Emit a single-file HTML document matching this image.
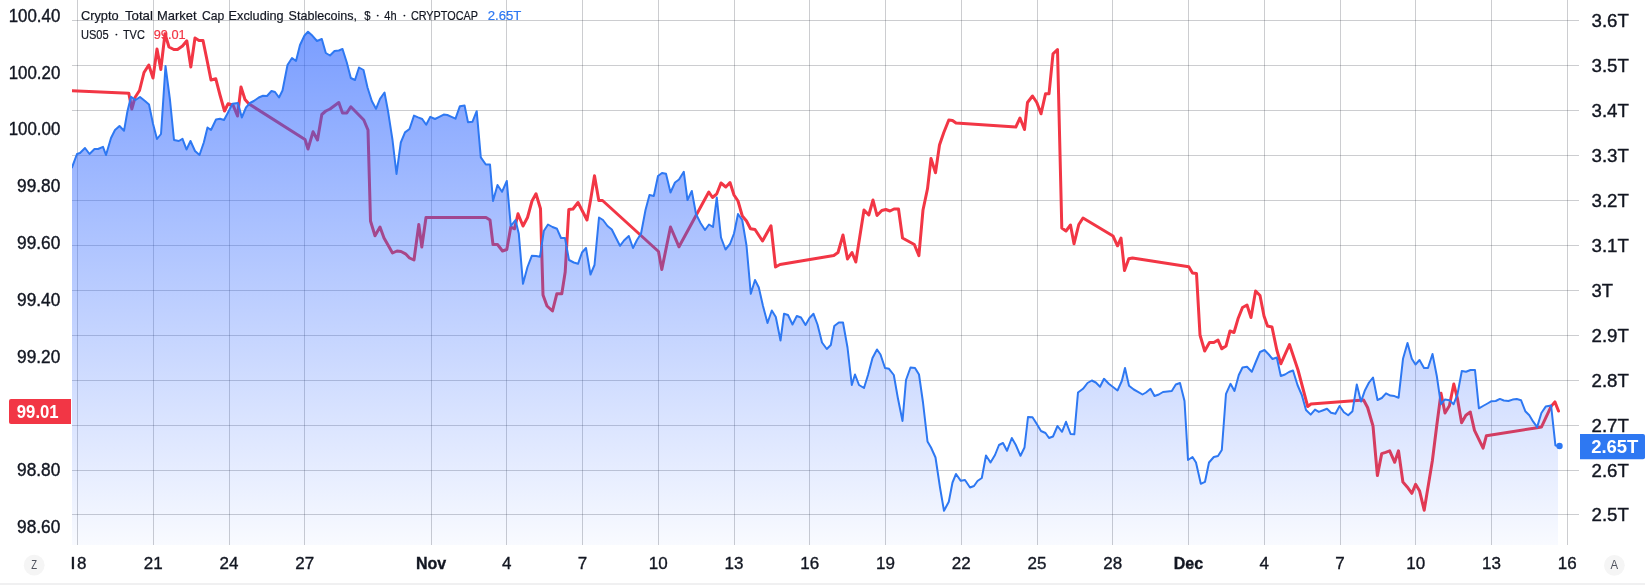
<!DOCTYPE html>
<html><head><meta charset="utf-8"><title>chart</title>
<style>
html,body{margin:0;padding:0;background:#fff;}
body{width:1645px;height:585px;overflow:hidden;font-family:"Liberation Sans",sans-serif;}
svg{display:block;will-change:transform;}
text{font-family:"Liberation Sans",sans-serif;}
</style></head><body>
<svg width="1645" height="585" viewBox="0 0 1645 585">
<defs>
<linearGradient id="ag" gradientUnits="userSpaceOnUse" x1="0" y1="0" x2="0" y2="545">
<stop offset="0" stop-color="#2962ff" stop-opacity="0.655"/>
<stop offset="1" stop-color="#2962ff" stop-opacity="0.03"/>
</linearGradient>
<clipPath id="cp"><rect x="72" y="0" width="1507" height="545"/></clipPath>
<clipPath id="cp2"><rect x="72" y="545" width="1507" height="40"/></clipPath>
</defs>
<rect x="0" y="0" width="1645" height="585" fill="#ffffff"/>
<rect x="0" y="583" width="1645" height="2" fill="#f0f0f1"/>

<g stroke="rgba(42,46,57,0.24)" stroke-width="1" shape-rendering="crispEdges">
<line x1="77.5" y1="0" x2="77.5" y2="545"/>
<line x1="153.5" y1="0" x2="153.5" y2="545"/>
<line x1="229.5" y1="0" x2="229.5" y2="545"/>
<line x1="304.5" y1="0" x2="304.5" y2="545"/>
<line x1="431.5" y1="0" x2="431.5" y2="545"/>
<line x1="506.5" y1="0" x2="506.5" y2="545"/>
<line x1="582.5" y1="0" x2="582.5" y2="545"/>
<line x1="658.5" y1="0" x2="658.5" y2="545"/>
<line x1="734.5" y1="0" x2="734.5" y2="545"/>
<line x1="809.5" y1="0" x2="809.5" y2="545"/>
<line x1="885.5" y1="0" x2="885.5" y2="545"/>
<line x1="961.5" y1="0" x2="961.5" y2="545"/>
<line x1="1037.5" y1="0" x2="1037.5" y2="545"/>
<line x1="1112.5" y1="0" x2="1112.5" y2="545"/>
<line x1="1188.5" y1="0" x2="1188.5" y2="545"/>
<line x1="1264.5" y1="0" x2="1264.5" y2="545"/>
<line x1="1340.5" y1="0" x2="1340.5" y2="545"/>
<line x1="1415.5" y1="0" x2="1415.5" y2="545"/>
<line x1="1491.5" y1="0" x2="1491.5" y2="545"/>
<line x1="1567.5" y1="0" x2="1567.5" y2="545"/>
<line x1="72" y1="20.5" x2="1579" y2="20.5"/>
<line x1="72" y1="65.5" x2="1579" y2="65.5"/>
<line x1="72" y1="110.5" x2="1579" y2="110.5"/>
<line x1="72" y1="155.5" x2="1579" y2="155.5"/>
<line x1="72" y1="200.5" x2="1579" y2="200.5"/>
<line x1="72" y1="245.5" x2="1579" y2="245.5"/>
<line x1="72" y1="290.5" x2="1579" y2="290.5"/>
<line x1="72" y1="335.5" x2="1579" y2="335.5"/>
<line x1="72" y1="380.5" x2="1579" y2="380.5"/>
<line x1="72" y1="425.5" x2="1579" y2="425.5"/>
<line x1="72" y1="470.5" x2="1579" y2="470.5"/>
<line x1="72" y1="514.5" x2="1579" y2="514.5"/>
</g>
<g clip-path="url(#cp)">
<path d="M72,90.8 L128.8,93.2 L131.8,109 L135,97.5 L139.5,90.5 L144,72.5 L148.8,65 L153,78 L157,49 L160.8,69.5 L165,33.8 L169,47 L173.8,49.5 L177.5,49.5 L182.5,46 L186.8,40.8 L190.8,67 L195,38 L199,40.5 L203,40.5 L207.5,62.5 L211,80 L215.8,78.8 L220,95 L224.5,111 L228,103.8 L233,105 L237.5,116 L241,87 L245,99.5 L248.8,103.8 L305,139.5 L308,149 L313,131.8 L317.5,140 L321.8,114.5 L325.8,111 L330,109 L338.8,102.5 L342.5,113 L346.8,113 L350.8,106.8 L363.8,120 L368,130 L370.5,221 L375,235.8 L380,227 L384,238 L388,245 L392.5,253 L397,251 L401,251.5 L405.5,253.8 L409.5,258 L414,260 L418.8,224.5 L421.8,247 L426,217.5 L486,217.5 L490,220 L493,244.5 L497.5,244.5 L502.5,251 L506.8,249.5 L510.8,227 L514.5,228.8 L518,213.8 L523,226 L527.5,217.5 L532,201 L536,193.8 L540.5,208.8 L543,295 L547,306 L552.5,311 L556.8,293.8 L561.8,293.8 L565.2,272 L568.8,209.5 L573,209 L578,202.5 L587,220 L590.8,198.8 L594.5,175.8 L598.8,200.5 L602.5,200.5 L658.5,251.5 L661.8,269.5 L670.5,227 L679,246.8 L708.8,192 L712.5,197.5 L716.8,193.8 L721,183 L725.8,187 L730,182.5 L734,195 L738,201 L742.3,216 L746.5,221 L750.5,228.8 L755,229.5 L762.5,241 L771,225.8 L775.5,267 L780,264.5 L833.8,255.5 L838,252.5 L843,235 L847.5,259 L852,252.5 L855.8,262 L864,210 L868.8,215 L873,200 L877,215.5 L881.8,210.5 L885.8,209.5 L890,211 L894,209 L898.5,209 L902.5,238 L914.3,244.5 L918.9,255.6 L923,210 L927.5,188.8 L931,158.5 L935.5,172.8 L939.5,145 L943.8,132.5 L948.8,120 L952.5,120.5 L956,123 L1015.8,127 L1020,118 L1024.5,129.5 L1027.5,102.5 L1032.5,96 L1036.8,102.5 L1041,113.8 L1045.5,93.8 L1049,93.8 L1053,53.8 L1057.5,49.5 L1061.8,228 L1066,231 L1070.5,225 L1074,243.8 L1078.8,224.5 L1083,218 L1113,236 L1117.5,245.8 L1121,238 L1124.5,270.5 L1128.8,258.8 L1132.5,258 L1188.8,266.8 L1192.5,273 L1196.5,273.5 L1200,335 L1204.7,351 L1209.5,342.5 L1213.8,342.5 L1218,340 L1221.8,348.8 L1226,346 L1230,331 L1234,332.5 L1238,318.8 L1242.5,307.5 L1247,305 L1251,317.5 L1255.6,291 L1260,295.5 L1264,316 L1267.5,326 L1272,327 L1276.8,350 L1280.8,363.8 L1289.5,344.5 L1298,370 L1307.7,406.5 L1311,404 L1363.6,400 L1367.6,407.5 L1373,426 L1377.4,475.6 L1381.7,453.6 L1385.6,452.3 L1389.7,450.8 L1394.7,462.3 L1398.5,450.8 L1402.9,482 L1407.2,486.9 L1411.9,493.3 L1415.6,484.3 L1419.5,490.7 L1424.2,510.2 L1432.4,460.5 L1436.7,426 L1441,393.3 L1445,413 L1449.4,405.8 L1453.8,384 L1457.4,398.5 L1461.6,422.8 L1465.9,415.2 L1470.3,412 L1474.5,430.3 L1483.1,448.2 L1486.4,435.7 L1537.1,427.7 L1541.4,427.1 L1551.1,406.4 L1554.9,401.9 L1558.5,411" fill="none" stroke="#f23645" stroke-width="3" stroke-linejoin="round" stroke-linecap="round"/>
<path d="M72,167.5 L77,154 L80,153 L85,148 L89.5,154 L94.5,149 L98,149 L103,146.8 L106,155 L111,138 L115,130 L119.5,126 L124,130.8 L127.5,111 L131,96.8 L135.5,100 L140,97 L145,101 L149,104.5 L153,123.8 L157,139 L161,134 L165.5,66 L170,100 L174,140 L178.8,141 L182.5,138.8 L186.5,149.5 L190.5,141 L195,151 L199.5,155 L203.8,142.5 L207.5,127.5 L211,130 L216,119.5 L220,118.8 L224,120 L228,112.5 L232.5,103.8 L238,103 L241.8,117.5 L246,107.5 L250,103 L253.8,101 L258.8,97.5 L263,95.8 L267,96 L271.5,91 L275,92 L279,97.5 L282.5,90.5 L287.5,65 L292,58 L296,61 L300,45 L304.5,35.5 L308,31.8 L312.5,35.8 L317,41 L321.8,39 L325.8,53 L330,55.5 L334.5,51 L338.8,50.5 L342.5,49 L346.8,62.5 L350.8,78 L355,80 L359,67.5 L363.5,70 L367.5,87.5 L371.8,101 L376,108.8 L380,98.8 L384.5,92.5 L388,111 L392.5,140 L396.5,174 L400.8,142.5 L405,132.4 L409.5,129 L414,115.6 L418.1,117.4 L422.2,119 L426.2,124.7 L430.3,116.8 L435,119 L439.3,116.8 L443.7,114.6 L447.4,115 L451.5,116.8 L455.5,118.7 L459.9,106.2 L464.6,105.6 L468,122.2 L472.4,121.8 L476.7,111.2 L480.8,157.4 L485.8,164.5 L490,164.5 L493,201 L497.5,185 L502,191.8 L506.8,181 L510.8,226 L515.5,220 L518.8,233.8 L523,283.8 L527.5,267 L531.8,255.8 L536,256 L540,256.8 L543.8,231 L548,224.5 L552.5,227 L557,228.8 L561,238 L565,238 L569,260 L573.8,262.5 L578,263.8 L582,252.5 L586,248 L590.5,274.5 L594.5,265 L599,217.5 L603,220 L607.5,226 L611.8,229.5 L615.8,237.5 L620,245.8 L624,240.5 L628.8,236 L633,248 L637,240 L641,233.8 L645.5,210 L649.5,195 L653.8,196 L658,176 L662,173 L666,173.8 L670.5,192.5 L675,182.5 L679,179.5 L683.8,171.8 L687.5,200 L691.8,191 L696,214 L700.5,223 L705,230 L709,224.5 L713,227 L716.8,197.5 L721,237.5 L725.5,249.5 L730,244 L734,233.5 L738,214 L742.2,220 L746.5,245.5 L750.8,293.8 L755,280 L758.8,287.5 L763,306 L767.5,323 L771.8,310.5 L775.8,317 L780.5,340.5 L784,313.8 L788,315 L792.5,324.5 L796.8,316 L801,317.5 L805.5,325 L809.5,318 L813.5,313.8 L817.5,324.5 L822,342.5 L826.8,349 L830.8,345 L834.3,326 L838.8,322.5 L843,322.5 L847.5,347.5 L851.8,385 L855,374.5 L859,385 L864,388 L868,375 L872.5,358 L877,349.5 L880.5,354.5 L885,368 L889,368.8 L893.8,375 L898,398.8 L902.5,421 L906,380 L910.5,367.5 L915,368 L919,374.5 L923,402.5 L927.5,441.5 L931,447.5 L935.5,457.5 L940,487.5 L944,510.8 L948.8,501.8 L952.5,482.5 L956,474 L960.8,480.8 L965,480 L970,487.5 L974,486 L977.5,481 L981.8,478 L986,455.5 L990.5,462.5 L995,455 L999,445 L1003,443 L1007,450.8 L1011.8,438 L1015.8,445 L1020.5,455.8 L1024.5,447.5 L1028,417 L1032.5,417.3 L1036.8,424 L1041,431 L1045.5,433 L1049,438 L1053,436.5 L1057.5,426 L1062,431.8 L1066,421.8 L1070.6,434 L1074.3,434.3 L1078,392.5 L1083,388.8 L1087.5,383 L1091.8,380.5 L1095.8,382.5 L1100,386.8 L1104,378.8 L1108.8,383.8 L1113,387 L1117.5,390.5 L1121.8,381 L1125,368 L1129,385.8 L1133.8,389.5 L1138,391.8 L1142.5,394.5 L1146,392.5 L1150.5,388.8 L1154.5,396 L1158.8,394.5 L1163,392 L1167.5,391.5 L1171.8,391 L1175.8,384.5 L1180,383 L1184.5,401 L1188,460 L1192.5,457 L1196,462.5 L1200.8,483.8 L1205,481.8 L1209,462.5 L1213.8,457 L1218,456 L1221.8,450 L1226,393.8 L1230.5,383.8 L1234.5,391 L1238.8,375 L1242.5,367.5 L1247,366.8 L1251.8,371.8 L1255.8,362 L1260,352 L1264.5,350 L1268.8,354.5 L1272.5,359 L1276.8,357.5 L1280.8,376 L1285,374.5 L1289,372 L1293,370.5 L1297.5,385 L1301.8,395 L1306,410 L1310.7,414.6 L1315,409.6 L1318.8,411.9 L1323.2,410.2 L1327,408.7 L1331,412.8 L1335.4,413.7 L1339.6,406 L1343.9,412.3 L1348.2,415.3 L1352.5,411.2 L1356.8,384.5 L1361,401.6 L1365,390.2 L1369,382.5 L1373,377.5 L1377.5,400 L1381.8,398 L1386,393.3 L1390.4,395.6 L1394.4,396.1 L1398.6,397.7 L1403,358.8 L1407.5,343 L1411.8,358.8 L1415.5,364.5 L1419.5,360 L1424,368 L1428,368 L1432.5,354 L1436.8,376 L1440.9,404.2 L1445,399.4 L1449.4,400.2 L1453.6,404.2 L1457.4,394.6 L1461.8,371 L1466,371.8 L1470.5,370 L1475,370 L1478.9,408.3 L1483,406 L1487.5,403.5 L1491.5,401.2 L1495.7,401 L1499.9,398.9 L1503.8,400.5 L1508.4,401 L1512.6,399.6 L1516.8,399 L1521,400.2 L1525.3,411.2 L1529.3,415.2 L1533.2,421.7 L1537.1,427.1 L1541.4,413 L1545.7,406.6 L1551.1,405.5 L1555.4,445.4 L1558,445.9 L1558,545 L72,545 Z" fill="url(#ag)" stroke="none"/>
<path d="M72,167.5 L77,154 L80,153 L85,148 L89.5,154 L94.5,149 L98,149 L103,146.8 L106,155 L111,138 L115,130 L119.5,126 L124,130.8 L127.5,111 L131,96.8 L135.5,100 L140,97 L145,101 L149,104.5 L153,123.8 L157,139 L161,134 L165.5,66 L170,100 L174,140 L178.8,141 L182.5,138.8 L186.5,149.5 L190.5,141 L195,151 L199.5,155 L203.8,142.5 L207.5,127.5 L211,130 L216,119.5 L220,118.8 L224,120 L228,112.5 L232.5,103.8 L238,103 L241.8,117.5 L246,107.5 L250,103 L253.8,101 L258.8,97.5 L263,95.8 L267,96 L271.5,91 L275,92 L279,97.5 L282.5,90.5 L287.5,65 L292,58 L296,61 L300,45 L304.5,35.5 L308,31.8 L312.5,35.8 L317,41 L321.8,39 L325.8,53 L330,55.5 L334.5,51 L338.8,50.5 L342.5,49 L346.8,62.5 L350.8,78 L355,80 L359,67.5 L363.5,70 L367.5,87.5 L371.8,101 L376,108.8 L380,98.8 L384.5,92.5 L388,111 L392.5,140 L396.5,174 L400.8,142.5 L405,132.4 L409.5,129 L414,115.6 L418.1,117.4 L422.2,119 L426.2,124.7 L430.3,116.8 L435,119 L439.3,116.8 L443.7,114.6 L447.4,115 L451.5,116.8 L455.5,118.7 L459.9,106.2 L464.6,105.6 L468,122.2 L472.4,121.8 L476.7,111.2 L480.8,157.4 L485.8,164.5 L490,164.5 L493,201 L497.5,185 L502,191.8 L506.8,181 L510.8,226 L515.5,220 L518.8,233.8 L523,283.8 L527.5,267 L531.8,255.8 L536,256 L540,256.8 L543.8,231 L548,224.5 L552.5,227 L557,228.8 L561,238 L565,238 L569,260 L573.8,262.5 L578,263.8 L582,252.5 L586,248 L590.5,274.5 L594.5,265 L599,217.5 L603,220 L607.5,226 L611.8,229.5 L615.8,237.5 L620,245.8 L624,240.5 L628.8,236 L633,248 L637,240 L641,233.8 L645.5,210 L649.5,195 L653.8,196 L658,176 L662,173 L666,173.8 L670.5,192.5 L675,182.5 L679,179.5 L683.8,171.8 L687.5,200 L691.8,191 L696,214 L700.5,223 L705,230 L709,224.5 L713,227 L716.8,197.5 L721,237.5 L725.5,249.5 L730,244 L734,233.5 L738,214 L742.2,220 L746.5,245.5 L750.8,293.8 L755,280 L758.8,287.5 L763,306 L767.5,323 L771.8,310.5 L775.8,317 L780.5,340.5 L784,313.8 L788,315 L792.5,324.5 L796.8,316 L801,317.5 L805.5,325 L809.5,318 L813.5,313.8 L817.5,324.5 L822,342.5 L826.8,349 L830.8,345 L834.3,326 L838.8,322.5 L843,322.5 L847.5,347.5 L851.8,385 L855,374.5 L859,385 L864,388 L868,375 L872.5,358 L877,349.5 L880.5,354.5 L885,368 L889,368.8 L893.8,375 L898,398.8 L902.5,421 L906,380 L910.5,367.5 L915,368 L919,374.5 L923,402.5 L927.5,441.5 L931,447.5 L935.5,457.5 L940,487.5 L944,510.8 L948.8,501.8 L952.5,482.5 L956,474 L960.8,480.8 L965,480 L970,487.5 L974,486 L977.5,481 L981.8,478 L986,455.5 L990.5,462.5 L995,455 L999,445 L1003,443 L1007,450.8 L1011.8,438 L1015.8,445 L1020.5,455.8 L1024.5,447.5 L1028,417 L1032.5,417.3 L1036.8,424 L1041,431 L1045.5,433 L1049,438 L1053,436.5 L1057.5,426 L1062,431.8 L1066,421.8 L1070.6,434 L1074.3,434.3 L1078,392.5 L1083,388.8 L1087.5,383 L1091.8,380.5 L1095.8,382.5 L1100,386.8 L1104,378.8 L1108.8,383.8 L1113,387 L1117.5,390.5 L1121.8,381 L1125,368 L1129,385.8 L1133.8,389.5 L1138,391.8 L1142.5,394.5 L1146,392.5 L1150.5,388.8 L1154.5,396 L1158.8,394.5 L1163,392 L1167.5,391.5 L1171.8,391 L1175.8,384.5 L1180,383 L1184.5,401 L1188,460 L1192.5,457 L1196,462.5 L1200.8,483.8 L1205,481.8 L1209,462.5 L1213.8,457 L1218,456 L1221.8,450 L1226,393.8 L1230.5,383.8 L1234.5,391 L1238.8,375 L1242.5,367.5 L1247,366.8 L1251.8,371.8 L1255.8,362 L1260,352 L1264.5,350 L1268.8,354.5 L1272.5,359 L1276.8,357.5 L1280.8,376 L1285,374.5 L1289,372 L1293,370.5 L1297.5,385 L1301.8,395 L1306,410 L1310.7,414.6 L1315,409.6 L1318.8,411.9 L1323.2,410.2 L1327,408.7 L1331,412.8 L1335.4,413.7 L1339.6,406 L1343.9,412.3 L1348.2,415.3 L1352.5,411.2 L1356.8,384.5 L1361,401.6 L1365,390.2 L1369,382.5 L1373,377.5 L1377.5,400 L1381.8,398 L1386,393.3 L1390.4,395.6 L1394.4,396.1 L1398.6,397.7 L1403,358.8 L1407.5,343 L1411.8,358.8 L1415.5,364.5 L1419.5,360 L1424,368 L1428,368 L1432.5,354 L1436.8,376 L1440.9,404.2 L1445,399.4 L1449.4,400.2 L1453.6,404.2 L1457.4,394.6 L1461.8,371 L1466,371.8 L1470.5,370 L1475,370 L1478.9,408.3 L1483,406 L1487.5,403.5 L1491.5,401.2 L1495.7,401 L1499.9,398.9 L1503.8,400.5 L1508.4,401 L1512.6,399.6 L1516.8,399 L1521,400.2 L1525.3,411.2 L1529.3,415.2 L1533.2,421.7 L1537.1,427.1 L1541.4,413 L1545.7,406.6 L1551.1,405.5 L1555.4,445.4 L1559.3,446" fill="none" stroke="#2e78f2" stroke-width="2" stroke-linejoin="round" stroke-linecap="round"/>
<circle cx="1559.5" cy="446" r="3.2" fill="#2e78f2"/>
</g>
<g font-size="13px" fill="#131722" stroke="#131722" stroke-width="0.2">
<text x="80.9" y="20" textLength="37.7" lengthAdjust="spacingAndGlyphs">Crypto</text>
<text x="124.9" y="20" textLength="28.0" lengthAdjust="spacingAndGlyphs">Total</text>
<text x="157.1" y="20" textLength="39.5" lengthAdjust="spacingAndGlyphs">Market</text>
<text x="202.0" y="20" textLength="22.3" lengthAdjust="spacingAndGlyphs">Cap</text>
<text x="228.6" y="20" textLength="55.1" lengthAdjust="spacingAndGlyphs">Excluding</text>
<text x="288.6" y="20" textLength="68.5" lengthAdjust="spacingAndGlyphs">Stablecoins,</text>
<text x="364.3" y="20" textLength="6.3" lengthAdjust="spacingAndGlyphs">$</text>
<circle cx="377.7" cy="15.6" r="0.95" stroke="none"/>
<text x="384.3" y="20" textLength="12.3" lengthAdjust="spacingAndGlyphs">4h</text>
<circle cx="404.4" cy="15.6" r="0.95" stroke="none"/>
<text x="410.9" y="20" textLength="67.1" lengthAdjust="spacingAndGlyphs">CRYPTOCAP</text>
<text x="487.7" y="20" fill="#2e78f2" stroke="#2e78f2" textLength="33.7" lengthAdjust="spacingAndGlyphs">2.65T</text>
<text x="80.9" y="39" textLength="27.7" lengthAdjust="spacingAndGlyphs">US05</text>
<circle cx="116.4" cy="34.6" r="0.95" stroke="none"/>
<text x="122.9" y="39" textLength="22.0" lengthAdjust="spacingAndGlyphs">TVC</text>
<text x="153.7" y="39" fill="#f23645" stroke="#f23645" textLength="32" lengthAdjust="spacingAndGlyphs">99.01</text>
</g>
<g font-size="18.5px" fill="#131722" text-anchor="end" stroke="#131722" stroke-width="0.4">
<text x="60.3" y="21.85" textLength="51.6" lengthAdjust="spacingAndGlyphs">100.40</text>
<text x="60.3" y="78.65" textLength="51.6" lengthAdjust="spacingAndGlyphs">100.20</text>
<text x="60.3" y="135.45" textLength="51.6" lengthAdjust="spacingAndGlyphs">100.00</text>
<text x="60.3" y="192.25" textLength="43.2" lengthAdjust="spacingAndGlyphs">99.80</text>
<text x="60.3" y="249.05" textLength="43.2" lengthAdjust="spacingAndGlyphs">99.60</text>
<text x="60.3" y="305.85" textLength="43.2" lengthAdjust="spacingAndGlyphs">99.40</text>
<text x="60.3" y="362.65" textLength="43.2" lengthAdjust="spacingAndGlyphs">99.20</text>
<text x="60.3" y="476.25" textLength="43.2" lengthAdjust="spacingAndGlyphs">98.80</text>
<text x="60.3" y="533.05" textLength="43.2" lengthAdjust="spacingAndGlyphs">98.60</text>
</g>
<path d="M11,399 H71 V424 H11 Q9,424 9,422 V401 Q9,399 11,399 Z" fill="#f23645"/>
<text x="16.8" y="418" font-size="18.5px" font-weight="bold" fill="#ffffff" textLength="41.8" lengthAdjust="spacingAndGlyphs">99.01</text>
<g font-size="18.5px" fill="#131722" stroke="#131722" stroke-width="0.4">
<text x="1591.5" y="26.8" textLength="37.4" lengthAdjust="spacingAndGlyphs">3.6T</text>
<text x="1591.5" y="71.8" textLength="37.4" lengthAdjust="spacingAndGlyphs">3.5T</text>
<text x="1591.5" y="116.8" textLength="37.4" lengthAdjust="spacingAndGlyphs">3.4T</text>
<text x="1591.5" y="161.8" textLength="37.4" lengthAdjust="spacingAndGlyphs">3.3T</text>
<text x="1591.5" y="206.8" textLength="37.4" lengthAdjust="spacingAndGlyphs">3.2T</text>
<text x="1591.5" y="251.8" textLength="37.4" lengthAdjust="spacingAndGlyphs">3.1T</text>
<text x="1591.5" y="296.8" textLength="21.5" lengthAdjust="spacingAndGlyphs">3T</text>
<text x="1591.5" y="341.8" textLength="37.4" lengthAdjust="spacingAndGlyphs">2.9T</text>
<text x="1591.5" y="386.8" textLength="37.4" lengthAdjust="spacingAndGlyphs">2.8T</text>
<text x="1591.5" y="431.8" textLength="37.4" lengthAdjust="spacingAndGlyphs">2.7T</text>
<text x="1591.5" y="476.8" textLength="37.4" lengthAdjust="spacingAndGlyphs">2.6T</text>
<text x="1591.5" y="520.8" textLength="37.4" lengthAdjust="spacingAndGlyphs">2.5T</text>
</g>
<path d="M1580,434 H1643 Q1645,434 1645,436 V457.3 Q1645,459.3 1643,459.3 H1580 Z" fill="#2e78f2"/>
<text x="1591.2" y="453.3" font-size="18.5px" font-weight="bold" fill="#ffffff" textLength="47.2" lengthAdjust="spacingAndGlyphs">2.65T</text>
<g font-size="17px" fill="#131722" text-anchor="middle" stroke="#131722" stroke-width="0.35">
<rect x="72" y="557" width="1.9" height="12" fill="#131722"/>
<text x="77.1" y="569" text-anchor="start">8</text>
<text x="153.2" y="569">21</text>
<text x="229.0" y="569">24</text>
<text x="304.8" y="569">27</text>
<text x="431.0" y="569" font-weight="bold" font-size="16px">Nov</text>
<text x="506.8" y="569">4</text>
<text x="582.5" y="569">7</text>
<text x="658.2" y="569">10</text>
<text x="734.0" y="569">13</text>
<text x="809.8" y="569">16</text>
<text x="885.5" y="569">19</text>
<text x="961.2" y="569">22</text>
<text x="1037.0" y="569">25</text>
<text x="1112.8" y="569">28</text>
<text x="1188.5" y="569" font-weight="bold" font-size="16px">Dec</text>
<text x="1264.2" y="569">4</text>
<text x="1340.0" y="569">7</text>
<text x="1415.8" y="569">10</text>
<text x="1491.5" y="569">13</text>
<text x="1567.2" y="569">16</text>
</g>
<circle cx="34.2" cy="565.2" r="10.4" fill="#f5f5f5"/>
<text x="31.3" y="569.4" font-size="12.8px" fill="#50535e" textLength="5.8" lengthAdjust="spacingAndGlyphs">Z</text>
<circle cx="1614.4" cy="565.3" r="10.4" fill="#f5f5f5"/>
<text x="1610.6" y="569.4" font-size="12.8px" fill="#50535e" textLength="7.6" lengthAdjust="spacingAndGlyphs">A</text>
</svg></body></html>
